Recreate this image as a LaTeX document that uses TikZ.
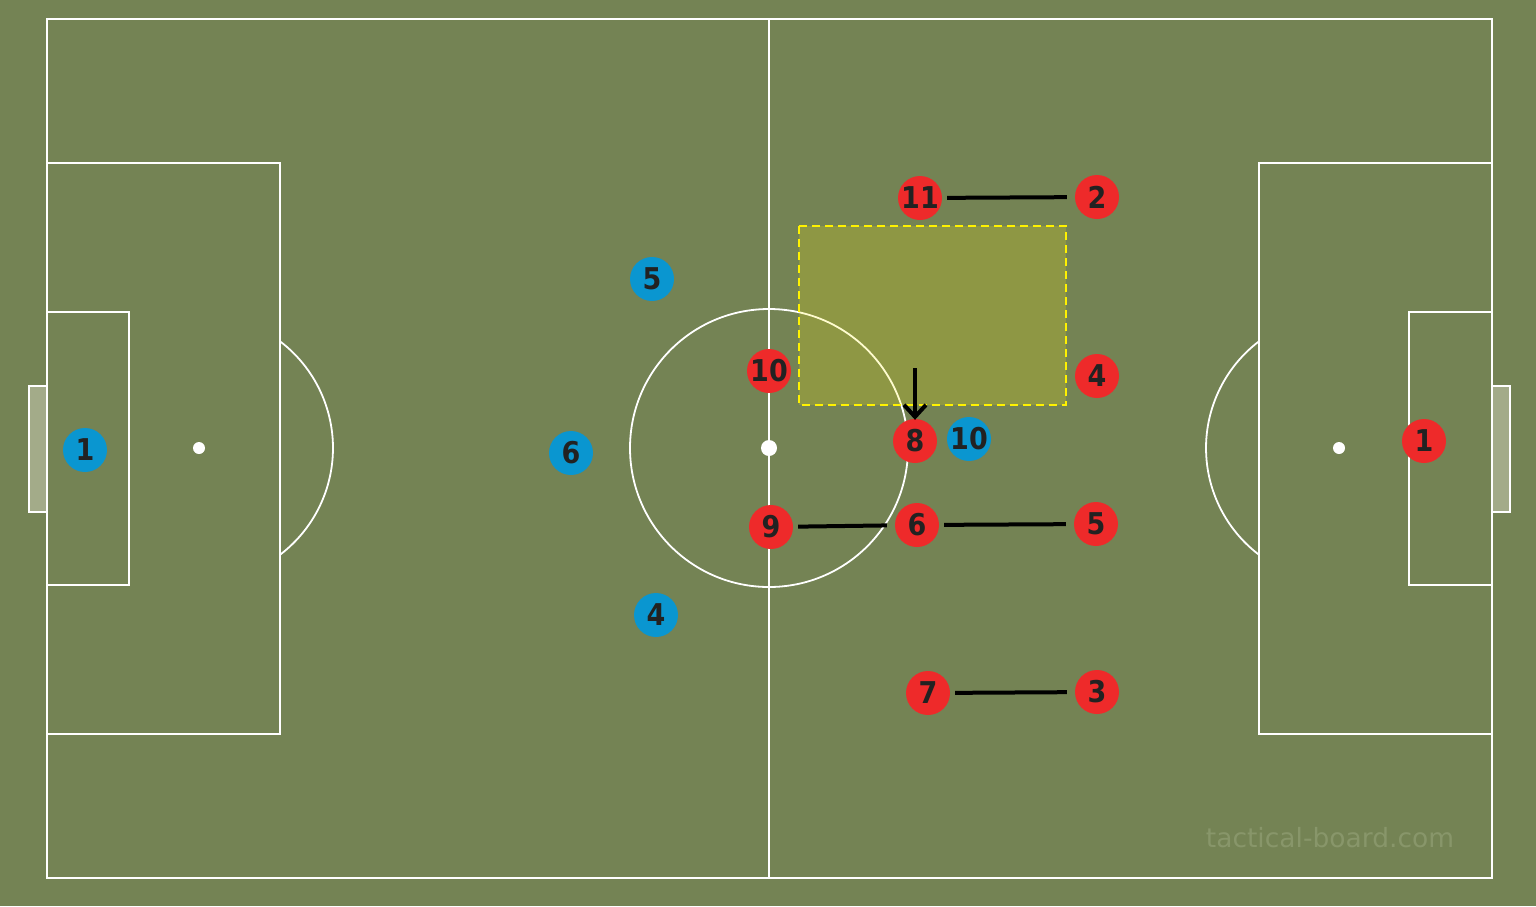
\documentclass[tikz,border=0pt]{standalone}
\usepackage{fontspec}
\setmainfont{Liberation Sans}
\newfontfamily\numfont{DejaVu Sans Condensed Bold}
\newfontfamily\markfont{DejaVu Sans}
\usetikzlibrary{arrows.meta}
\definecolor{pitch}{RGB}{116,131,84}
\definecolor{goalc}{RGB}{163,171,137}
\definecolor{redc}{RGB}{238,42,42}
\definecolor{bluec}{RGB}{10,150,208}
\definecolor{numc}{RGB}{34,34,34}
\definecolor{markc}{RGB}{136,150,106}
\tikzset{
  lines/.style={white, line width=1.8pt},
  redp/.style={circle, fill=redc, minimum size=44pt, inner sep=0pt, text=numc,
    font=\numfont\fontsize{30}{30}\selectfont},
  bluep/.style={redp, fill=bluec},
  link/.style={black, line width=4pt, shorten <=5pt, shorten >=8pt},
}

\begin{document}
\begin{tikzpicture}[x=1pt, y=-1pt]
          \fill [pitch] (0,0) rectangle (1536,906); % Draws the grass
          \useasboundingbox (0,0) rectangle (1536,906);

          \fill [goalc] (29,386) rectangle (47,512); % Draws the left goal
          \draw [lines] (29,386) rectangle (47,512);
          \fill [goalc] (1492,386) rectangle (1510,512); % Draws the right goal
          \draw [lines] (1492,386) rectangle (1510,512);

          \draw [lines] (47,19) rectangle (1492,878); % Draws the touch lines
          \draw [lines] (769,19) to (769,878); % Draws the halfway line
          \draw [lines] (769,448) circle (139); % Draws the centre circle
          \fill [white] (769,448) circle (8);

          \draw [lines] (47,163) rectangle (280,734); % Draws a rectangle
          \draw [lines] (47,312) rectangle (129,585); % Draws a rectangle
          \fill [white] (199,448) circle (6);
          \draw [lines] (280,341.3) arc [start angle=-52.8, end angle=52.8, radius=134];

          \draw [lines] (1259,163) rectangle (1492,734); % Draws a rectangle
          \draw [lines] (1409,312) rectangle (1492,585); % Draws a rectangle
          \fill [white] (1339,448) circle (6);
          \draw [lines] (1259,341.3) arc [start angle=232.8, end angle=127.2, radius=134];

          \fill [yellow, fill opacity=0.19] (799,226) rectangle (1066,405); % Draws the zone
          \draw [yellow, line width=2.5pt, dash pattern=on 8pt off 5pt] (799,226) rectangle (1066,405);

          \node [markc, font=\markfont\fontsize{26.5}{26.5}\selectfont] (mark) at (1330,838) {tactical-board.com};

          \node [bluep] (b1) at (85,450) {1};
          \node [bluep] (b5) at (652,279) {5};
          \node [bluep] (b6) at (571,453) {6};
          \node [bluep] (b4) at (656,615) {4};
          \node [bluep] (b10) at (969,439) {10};

          \node [redp] (r11) at (920,198) {11};
          \node [redp] (r2) at (1097,197) {2};
          \node [redp] (r10) at (769,371) {10};
          \node [redp] (r4) at (1097,376) {4};
          \node [redp] (r8) at (915,441) {8};
          \node [redp] (r9) at (771,527) {9};
          \node [redp] (r6) at (917,525) {6};
          \node [redp] (r5) at (1096,524) {5};
          \node [redp] (r7) at (928,693) {7};
          \node [redp] (r3) at (1097,692) {3};
          \node [redp] (r1) at (1424,441) {1};

          \draw [link] (r11) to (r2);
          \draw [link] (r9) to (r6);
          \draw [link] (r6) to (r5);
          \draw [link] (r7) to (r3);

          \coordinate (press) at (915,368);
          \draw [black, line width=4pt, -{Straight Barb[length=12pt, width=22pt]}] (press) to ([yshift=-1pt]r8.north);
        \end{tikzpicture}
\end{document}
